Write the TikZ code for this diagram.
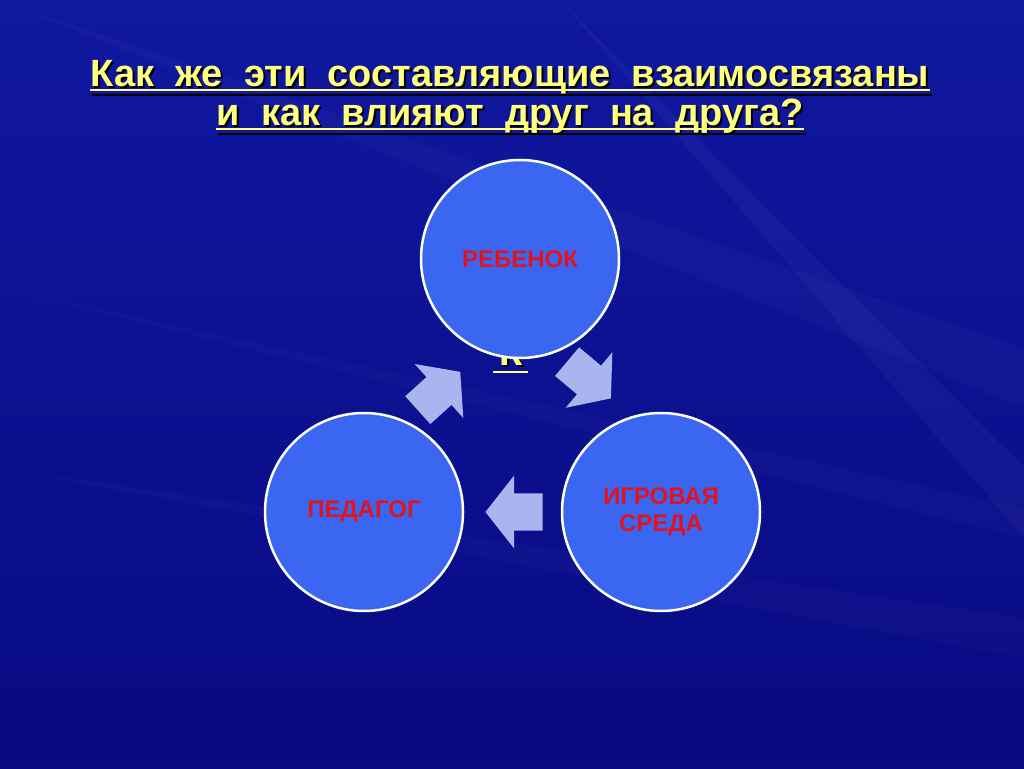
\documentclass[tikz,border=0pt]{standalone}
\usepackage{fontspec}
\setmainfont{Liberation Sans}
\begin{document}
\begin{tikzpicture}[x=1pt,y=1pt,
  circ/.style={circle,draw=white,line width=2.5pt,fill=cfill,minimum size=198pt,inner sep=0pt,font=\fontsize{24}{27}\selectfont\bfseries,text=cred,align=center},
  ttl/.style={font=\fontsize{38}{42}\selectfont\bfseries,text=cyel,inner sep=0pt},
  uline/.style={line width=2.5pt,draw=cyel}]
\definecolor{cfill}{HTML}{3A66F2}
\definecolor{cred}{HTML}{E0141E}
\definecolor{carrow}{HTML}{AAB4EE}
\definecolor{cyel}{HTML}{FFFF80}
\definecolor{bgtop}{HTML}{1018A0}
\definecolor{bgbot}{HTML}{080A82}
\useasboundingbox (0,0) rectangle (1024,768);
\shade[top color=bgtop,bottom color=bgbot] (0,0) rectangle (1024,768);
\fill[white,opacity=0.025] (0,768) -- (1024,420) -- (1024,360) -- cycle;
\fill[white,opacity=0.02] (0,300) -- (1024,150) -- (1024,110) -- cycle;
\fill[white,opacity=0.03] (560,768) -- (1024,230) -- (1024,300) -- cycle;
\fill[white,opacity=0.02] (0,480) -- (1024,260) -- (1024,230) -- cycle;
\node[ttl,text=black] at (512,689) {Как\ \ же\ \ эти\ \ составляющие\ \ взаимосвязаны};
\node[ttl] (t1) at (510,691) {Как\ \ же\ \ эти\ \ составляющие\ \ взаимосвязаны};
\node[ttl,text=black] at (512,650) {и\ \ как\ \ влияют\ \ друг\ \ на\ \ друга?};
\node[ttl] (t2) at (510,652) {и\ \ как\ \ влияют\ \ друг\ \ на\ \ друга?};
\draw[black,line width=2.5pt] ([shift={(2,-3)}]t1.west |- 0,676) -- ([shift={(2,-3)}]t1.east |- 0,676);
\draw[uline] (t1.west |- 0,678) -- (t1.east |- 0,678);
\draw[black,line width=2.5pt] ([shift={(2,-3)}]t2.west |- 0,637) -- ([shift={(2,-3)}]t2.east |- 0,637);
\draw[uline] (t2.west |- 0,639) -- (t2.east |- 0,639);
\node[ttl,text=black] at (513,414) {К};
\node[ttl] (k) at (511,416) {К};
\draw[uline] (493,396) -- (528,396);
\node[circ] (reb) at (520,509) {РЕБЕНОК};
\node[circ] (ped) at (364,256) {ПЕДАГОГ};
\node[circ] (igr) at (661,256) {ИГРОВАЯ\\СРЕДА};
\foreach \cx/\cy/\r in {514/256/180, 439/377/42, 589/388/-40}{
  \fill[carrow,shift={(\cx,\cy)},rotate=\r,scale=1.1] (-26,-17) -- (0,-17) -- (0,-33) -- (26,0) -- (0,33) -- (0,17) -- (-26,17) -- cycle;
}
\end{tikzpicture}
\end{document}
